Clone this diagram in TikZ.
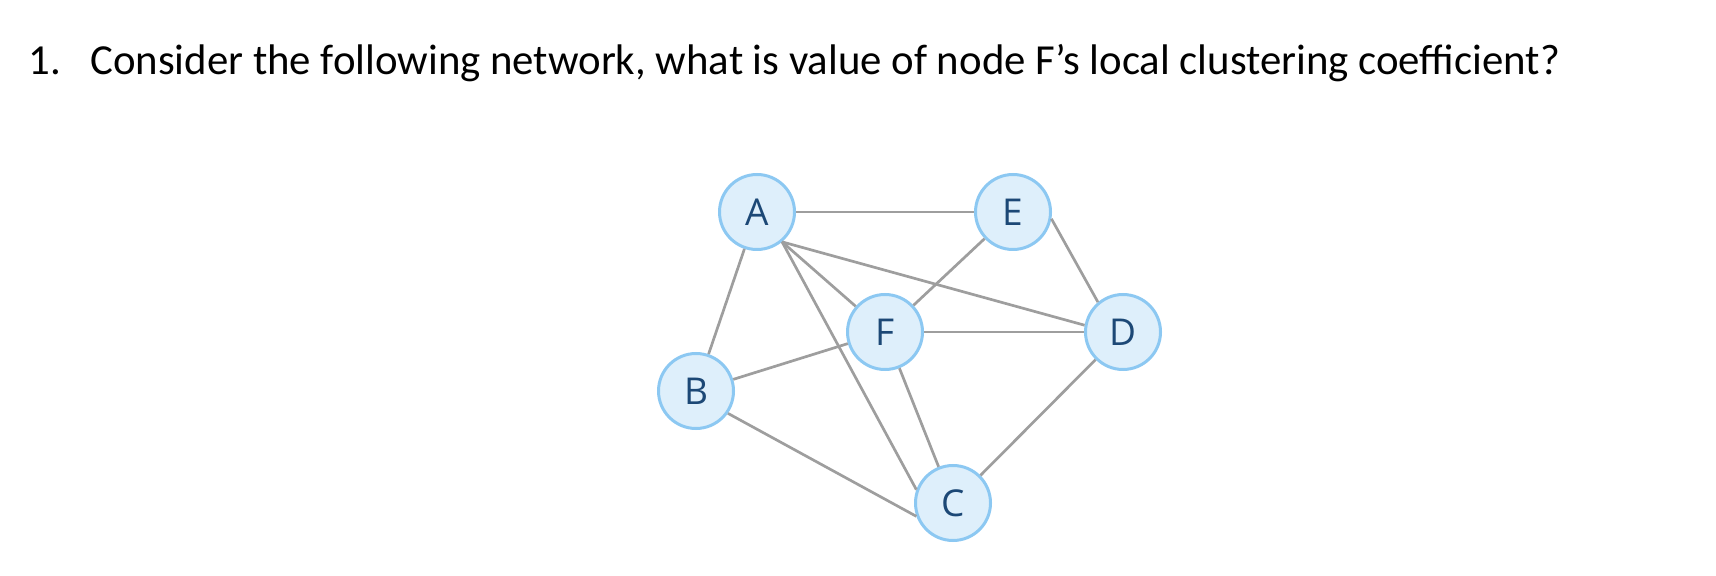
\documentclass[tikz,border=0pt]{standalone}
\usepackage{fontspec}
\setmainfont{Carlito}
\newfontfamily\literefont{Open Sans}
\usetikzlibrary{positioning}
\definecolor{umplere}{RGB}{222,239,251}
\definecolor{contur}{RGB}{140,200,242}
\definecolor{litera}{RGB}{28,72,118}
\definecolor{linie}{RGB}{158,158,158}
\tikzset{
  nod/.style     = {circle, draw=contur, fill=umplere, line width=1.5pt,
                    minimum size=37.5pt, inner sep=0pt, text=litera,
                    font=\literefont\fontsize{18.5}{18.5}\selectfont},
  muchie/.style  = {draw=linie, line width=1.35pt},
  titlu/.style   = {anchor=base west, inner sep=0pt,
                    font=\fontsize{21.4}{21.4}\selectfont}
}

\begin{document}
\begin{tikzpicture}[x=0.5pt, y=-0.5pt]
    \useasboundingbox (0,0) rectangle (1716,576);
    \node[titlu] (nr) at (28,75) {1.};
    \node[titlu] (intrebare) at (90,75)
        {Consider the following network, what is value of node F’s local clustering coefficient?};

    \node[nod] (A) at (757,212) {A};
    \node[nod] (E) at (1013,212) {E};
    \node[nod] (F) at (885,332) {F};
    \node[nod] (D) at (1123,332) {D};
    \node[nod] (B) at (696,391) {B};
    \node[nod] (C) at (953,503) {C};

    \draw[muchie] (A) -- (E);
    \draw[muchie] (A) -- (B);
    \draw[muchie] (A.-50) -- (F);
    \draw[muchie] (A.-50) -- (D.170);
    \draw[muchie] (A.-50) -- (C.160);
    \draw[muchie] (E) -- (F);
    \draw[muchie] (E.-10) -- (D.130);
    \draw[muchie] (B) -- (F);
    \draw[muchie] (F) -- (D);
    \draw[muchie] (F) -- (C);
    \draw[muchie] (B.-35) -- (C.200);
    \draw[muchie] (C) -- (D);
\end{tikzpicture}
\end{document}
